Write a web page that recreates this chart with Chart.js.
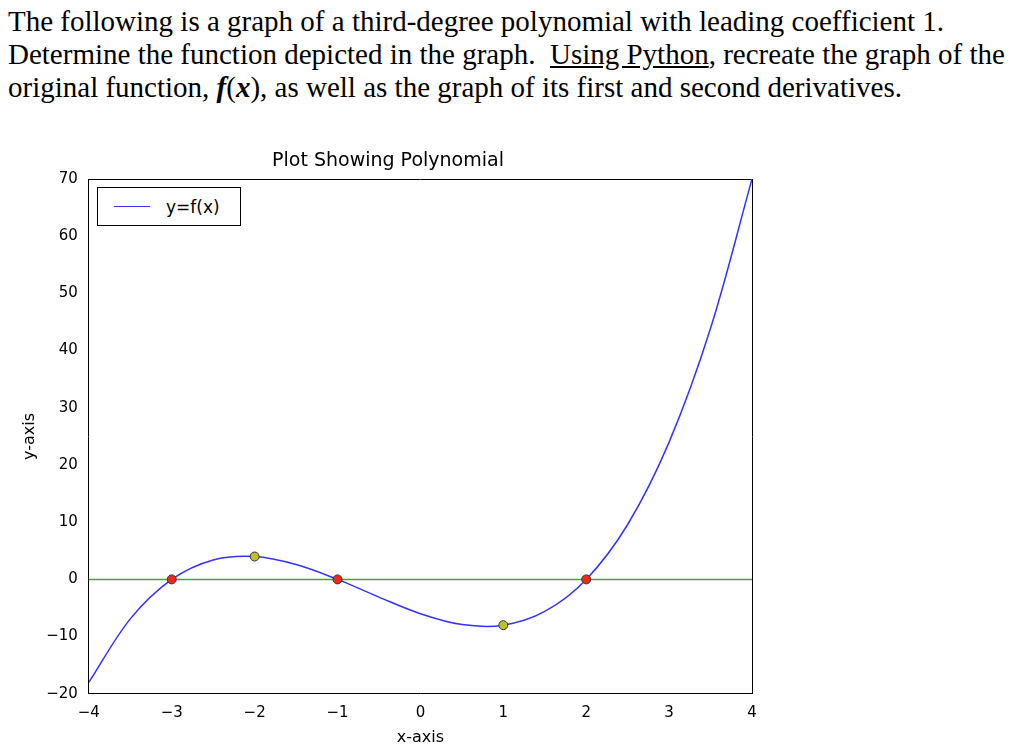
<!DOCTYPE html>
<html>
<head>
<meta charset="utf-8">
<script src="https://cdn.jsdelivr.net/npm/chart.js@4"></script>
<style>
  body { margin: 0; background: #fff; width: 1024px; height: 751px; overflow: hidden; position: relative; }
  #question { position: absolute; left: 8px; top: 5px; font-family: "Liberation Serif", serif; font-size: 29px; line-height: 33px; color: #000; white-space: nowrap; }
  #question u { text-decoration: underline; }
  #wrap { position: absolute; left: 0; top: 133px; width: 1024px; height: 618px; }
  #legend { position: absolute; left: 97px; top: 187px; width: 142px; height: 37px; border: 1px solid #000; background: #fff;
            font-family: "DejaVu Sans", sans-serif; font-size: 17px; display: flex; align-items: center; }
  #legend span.line { display: inline-block; width: 36px; height: 0; border-top: 1.5px solid #3333ff; margin: 0 16px 0 16px; }
</style>
</head>
<body>
<div id="question">The following is a graph of a third-degree polynomial with leading coefficient 1.<br>
Determine the function depicted in the graph.&nbsp; <u>Using Python</u>, recreate the graph of the<br>
original function, <b><i>f</i></b>(<b><i>x</i></b>), as well as the graph of its first and second derivatives.</div>
<div id="wrap"><canvas id="grafico"></canvas></div>
<div id="legend"><span class="line"></span>y=f(x)</div>
<script>
// --- DATOS ---
const xValues = [-4, -3.5, -3, -2.5, -2, -1.5, -1, -0.5, 0, 0.5, 1, 1.5, 2, 2.5, 3, 3.5, 4];
const yValues = [-18, -6.9, 0, 3.4, 4, 2.6, 0, -3.1, -6, -7.9, -8, -5.6, 0, 9.6, 24, 43.9, 70];
const rootX = [-3, -1, 2];
const rootY = [0, 0, 0];
const extremaX = [-2, 1];
const extremaY = [4, -8];
const xTicks = [-4, -3, -2, -1, 0, 1, 2, 3, 4];
const yTicks = [-20, -10, 0, 10, 20, 30, 40, 50, 60, 70];

const pares = (xs, ys) => xs.map((x, i) => ({ x: x, y: ys[i] }));
const menos = v => String(v).replace('-', '\u2212');
const fuente = { family: 'DejaVu Sans', size: 15 };

const ctx = document.getElementById('grafico').getContext('2d');
new Chart(ctx, {
    type: 'scatter',
    data: {
        datasets: [
            { data: pares(extremaX, extremaY), backgroundColor: '#bfbf2a', borderColor: '#333', borderWidth: 1, pointRadius: 4.5, order: 0 },
            { data: pares(rootX, rootY), backgroundColor: '#ee2a1e', borderColor: '#333', borderWidth: 1, pointRadius: 4.5, order: 0 },
            { data: pares(xValues, yValues), showLine: true, borderColor: '#3333ff', borderWidth: 1.5, pointRadius: 0, tension: 0.35, order: 1 },
            { data: pares([-4, 4], [0, 0]), showLine: true, borderColor: '#4f9f3a', borderWidth: 1.5, pointRadius: 0, order: 2 }
        ]
    },
    options: {
        responsive: true,
        maintainAspectRatio: false,
        animation: false,
        layout: { padding: { left: 16, right: 264, top: 0, bottom: 0 } },
        plugins: {
            legend: { display: false },
            tooltip: { enabled: false },
            title: { display: true, text: 'Plot Showing Polynomial', color: '#000', font: { family: 'DejaVu Sans', size: 19, weight: 'normal', lineHeight: 1.0 }, padding: { top: 19, bottom: 0 } }
        },
        scales: {
            x: {
                type: 'linear', min: -4, max: 4,
                afterBuildTicks: s => { s.ticks = xTicks.map(v => ({ value: v })); },
                ticks: { color: '#000', font: fuente, callback: menos, padding: 2 },
                grid: { display: false },
                border: { color: '#000', width: 1 },
                title: { display: true, text: 'x-axis', color: '#000', font: { family: 'DejaVu Sans', size: 16 }, padding: 4 }
            },
            y: {
                min: -20, max: 70,
                afterBuildTicks: s => { s.ticks = yTicks.map(v => ({ value: v })); },
                ticks: { color: '#000', font: fuente, callback: menos },
                grid: { display: false },
                border: { color: '#000', width: 1 },
                title: { display: true, text: 'y-axis', color: '#000', font: { family: 'DejaVu Sans', size: 16 } }
            },
            x2: { position: 'top', type: 'linear', min: -4, max: 4, ticks: { display: false }, grid: { display: false }, border: { color: '#000' } },
            y2: { position: 'right', min: -20, max: 70, ticks: { display: false }, grid: { display: false }, border: { color: '#000' } }
        }
    }
});
</script>
</body>
</html>
